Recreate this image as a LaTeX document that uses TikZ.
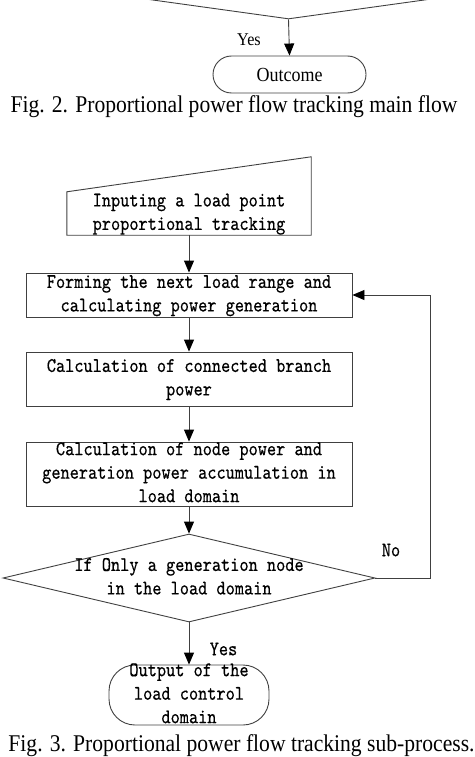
\documentclass[tikz,border=0pt]{standalone}
\usepackage{fontspec}
\setmainfont{Liberation Serif}
\newfontfamily\capfont{Liberation Serif}[FakeStretch=0.9]
\newfontfamily\monofont{lmmono10-regular}[Extension=.otf,FakeStretch=0.84,FakeBold=0.4]
\usetikzlibrary{arrows.meta,shapes.geometric}
\newcommand\mytb[1]{\vbox to 0pt{\vss\hbox{\begin{tabular}{@{}c@{}}#1\end{tabular}}\vss}}
\tikzset{
  line/.style={draw=black!75, line width=0.9pt},
  arr/.style={line, -{Triangle[width=10pt,length=12pt,color=black]}},
  mono/.style={font=\monofont\fontsize{20.8}{23.5}\selectfont, inner sep=0pt},
  box/.style={line, mono, rectangle, minimum width=326pt},
  stad/.style={line, rectangle, inner sep=0pt},
  serifl/.style={font=\capfont\fontsize{18}{21}\selectfont, inner sep=0pt},
  caption/.style={font=\capfont\fontsize{24}{28}\selectfont, inner sep=0pt, anchor=base},
}
\begin{document}
\begin{tikzpicture}[x=1pt,y=-1pt]
\useasboundingbox (0,0) rectangle (474,757);
% ---- end of Fig. 2 ----
\begin{scope}
  \clip (0,0) rectangle (474,757);
  \node[line, diamond, minimum width=589pt, minimum height=82pt, inner sep=0pt] (d0) at (288.5,-22) {};
\end{scope}
\node[stad, rounded corners=18.5pt, minimum width=153pt, minimum height=37pt, serifl, font=\capfont\fontsize{20}{24}\selectfont] (out) at (289.5,74.5) {Outcome};
\draw[arr] (d0.south) -- (out.north);
\node[serifl] (yes1) at (249,40) {Yes};
\node[caption] (cap1) at (234,113) {Fig. 2. Proportional power flow tracking main flow};
% ---- Fig. 3 ----
\node[mono, rectangle, minimum width=244pt, minimum height=43pt] (inp) at (189,213.5)
  {\mytb{Inputing a load point\\proportional tracking}};
\draw[line] (inp.south west) -- (inp.north west) -- ([yshift=35pt]inp.north east) -- (inp.south east) -- cycle;
\node[box, minimum height=44pt] (b2) at (189,295)
  {\mytb{Forming the next load range and\\calculating power generation}};
\node[box, minimum height=54pt] (b3) at (189,379)
  {\mytb{Calculation of connected branch\\power}};
\node[box, minimum height=64pt] (b4) at (189,474)
  {\mytb{Calculation of node power and\\generation power accumulation in\\load domain}};
\node[line, mono, diamond, aspect=4.2, minimum width=372pt, minimum height=88pt] (dec) at (189,578)
  {\mytb{If Only a generation node\\in the load domain}};
\node[stad, mono, rounded corners=26pt, minimum width=160pt, minimum height=60pt] (end) at (189,695)
  {\mytb{Output of the\\load control\\domain}};
\draw[arr] (inp.south) -- (b2.north);
\draw[arr] (b2.south) -- (b3.north);
\draw[arr] (b3.south) -- (b4.north);
\draw[arr] (b4.south) -- (dec.north);
\draw[arr] (dec.south) -- (end.north);
\coordinate (loop) at (430,578);
\draw[arr] (dec.east) -- (loop) |- (b2.east);
\node[mono] (no) at (391,550) {No};
\node[mono] (yes2) at (223.5,649) {Yes};
\node[caption] (cap2) at (241.5,751) {Fig. 3. Proportional power flow tracking sub-process.};
\end{tikzpicture}
\end{document}
